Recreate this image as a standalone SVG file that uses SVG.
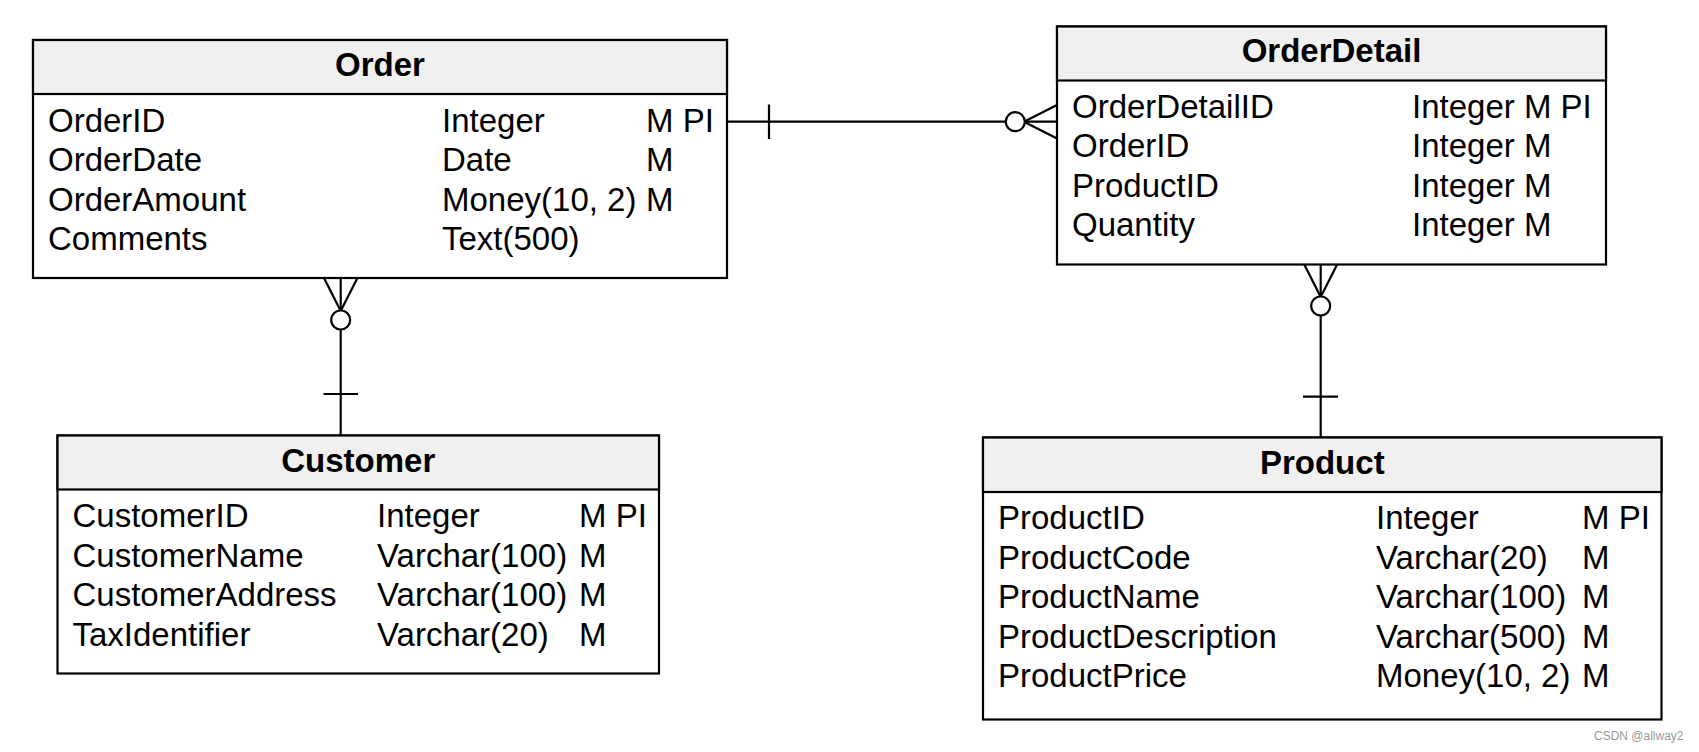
<svg xmlns="http://www.w3.org/2000/svg" width="1699" height="752" viewBox="0 0 1699 752">
<style>
.box{fill:#fff;stroke:#000;stroke-width:2.2}
.hdr{fill:#f0f0f0;stroke:#000;stroke-width:2.2}
.t{font-family:"Liberation Sans",Arial,sans-serif;font-size:33px;fill:#000}
.ttl{font-family:"Liberation Sans",Arial,sans-serif;font-size:33px;font-weight:bold;fill:#000;text-anchor:middle}
.ln{fill:none;stroke:#000;stroke-width:2.2}
.circ{fill:#fff;stroke:#000;stroke-width:2.2}
.wm{font-family:"Liberation Sans",Arial,sans-serif;font-size:12px;fill:#999}
</style>
<rect width="1699" height="752" fill="#fff"/>
<g id="connectors">
  <g id="order-orderdetail">
    <line class="ln" x1="727" y1="121.7" x2="1057" y2="121.7"/>
    <line class="ln" x1="769" y1="104.5" x2="769" y2="139"/>
    <line class="ln" x1="1024" y1="121.7" x2="1057" y2="105"/>
    <line class="ln" x1="1024" y1="121.7" x2="1057" y2="138.5"/>
    <circle class="circ" cx="1015.3" cy="121.7" r="9.5"/>
  </g>
  <g id="customer-order">
    <line class="ln" x1="340.7" y1="278" x2="340.7" y2="435.5"/>
    <line class="ln" x1="323.5" y1="394" x2="358" y2="394"/>
    <line class="ln" x1="324" y1="278" x2="340.7" y2="311"/>
    <line class="ln" x1="357.4" y1="278" x2="340.7" y2="311"/>
    <circle class="circ" cx="340.7" cy="320" r="9.5"/>
  </g>
  <g id="product-orderdetail">
    <line class="ln" x1="1320.7" y1="264.5" x2="1320.7" y2="437.5"/>
    <line class="ln" x1="1303" y1="396.7" x2="1338" y2="396.7"/>
    <line class="ln" x1="1304.3" y1="264.5" x2="1320.7" y2="297"/>
    <line class="ln" x1="1337.1" y1="264.5" x2="1320.7" y2="297"/>
    <circle class="circ" cx="1320.7" cy="306" r="9.5"/>
  </g>
</g>
<g id="order">
  <rect class="box" x="33" y="40" width="694" height="238"/>
  <rect class="hdr" x="33" y="40" width="694" height="54"/>
  <text class="ttl" x="380" y="75.5">Order</text>
  <text class="t" x="48" y="131.5">OrderID</text>
  <text class="t" x="442" y="131.5">Integer</text>
  <text class="t" x="646" y="131.5">M PI</text>
  <text class="t" x="48" y="171">OrderDate</text>
  <text class="t" x="442" y="171">Date</text>
  <text class="t" x="646" y="171">M</text>
  <text class="t" x="48" y="210.5">OrderAmount</text>
  <text class="t" x="442" y="210.5">Money(10, 2)</text>
  <text class="t" x="646" y="210.5">M</text>
  <text class="t" x="48" y="250">Comments</text>
  <text class="t" x="442" y="250">Text(500)</text>
</g>
<g id="orderdetail">
  <rect class="box" x="1057" y="26.5" width="549" height="238"/>
  <rect class="hdr" x="1057" y="26.5" width="549" height="54"/>
  <text class="ttl" x="1331.5" y="62">OrderDetail</text>
  <text class="t" x="1072" y="117.5">OrderDetailID</text>
  <text class="t" x="1412" y="117.5">Integer M PI</text>
  <text class="t" x="1072" y="157">OrderID</text>
  <text class="t" x="1412" y="157">Integer M</text>
  <text class="t" x="1072" y="196.5">ProductID</text>
  <text class="t" x="1412" y="196.5">Integer M</text>
  <text class="t" x="1072" y="236">Quantity</text>
  <text class="t" x="1412" y="236">Integer M</text>
</g>
<g id="customer">
  <rect class="box" x="57.5" y="435.5" width="601.5" height="238"/>
  <rect class="hdr" x="57.5" y="435.5" width="601.5" height="54"/>
  <text class="ttl" x="358.3" y="471.5">Customer</text>
  <text class="t" x="72.5" y="527">CustomerID</text>
  <text class="t" x="377" y="527">Integer</text>
  <text class="t" x="579" y="527">M PI</text>
  <text class="t" x="72.5" y="566.5">CustomerName</text>
  <text class="t" x="377" y="566.5">Varchar(100)</text>
  <text class="t" x="579" y="566.5">M</text>
  <text class="t" x="72.5" y="606">CustomerAddress</text>
  <text class="t" x="377" y="606">Varchar(100)</text>
  <text class="t" x="579" y="606">M</text>
  <text class="t" x="72.5" y="645.5">TaxIdentifier</text>
  <text class="t" x="377" y="645.5">Varchar(20)</text>
  <text class="t" x="579" y="645.5">M</text>
</g>
<g id="product">
  <rect class="box" x="983" y="437.5" width="678.5" height="282"/>
  <rect class="hdr" x="983" y="437.5" width="678.5" height="54.5"/>
  <text class="ttl" x="1322.3" y="473.5">Product</text>
  <text class="t" x="998" y="529">ProductID</text>
  <text class="t" x="1376" y="529">Integer</text>
  <text class="t" x="1582" y="529">M PI</text>
  <text class="t" x="998" y="568.5">ProductCode</text>
  <text class="t" x="1376" y="568.5">Varchar(20)</text>
  <text class="t" x="1582" y="568.5">M</text>
  <text class="t" x="998" y="608">ProductName</text>
  <text class="t" x="1376" y="608">Varchar(100)</text>
  <text class="t" x="1582" y="608">M</text>
  <text class="t" x="998" y="647.5">ProductDescription</text>
  <text class="t" x="1376" y="647.5">Varchar(500)</text>
  <text class="t" x="1582" y="647.5">M</text>
  <text class="t" x="998" y="687">ProductPrice</text>
  <text class="t" x="1376" y="687">Money(10, 2)</text>
  <text class="t" x="1582" y="687">M</text>
</g>
<text class="wm" x="1594" y="740">CSDN @allway2</text>
</svg>
